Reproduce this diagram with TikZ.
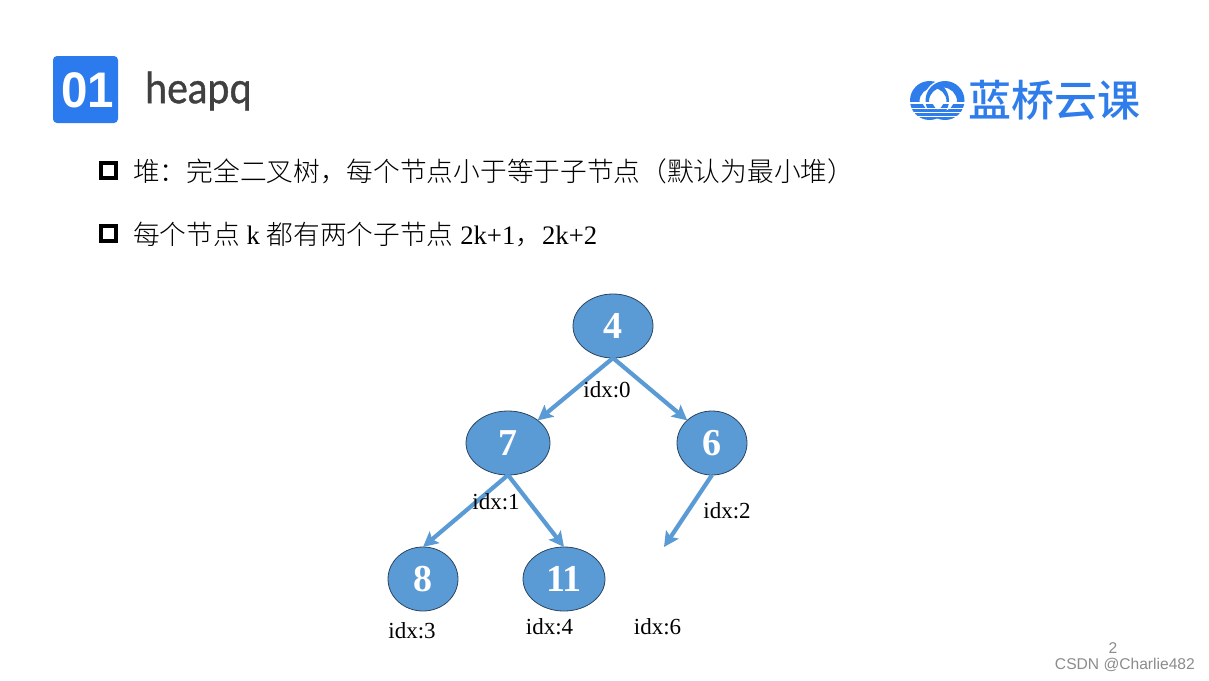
\documentclass[tikz,border=0pt]{standalone}
\usepackage{fontspec}
\setmainfont{Liberation Serif}
\newfontfamily\cjk{Noto Sans CJK SC Light}
\newfontfamily\cjkb{Noto Sans CJK SC Medium}
\newfontfamily\headfont[FakeBold=1]{Lato}
\newfontfamily\arialfont{Liberation Sans}
\usetikzlibrary{shapes.geometric,arrows.meta}
\definecolor{badge}{HTML}{2B7BEF}
\definecolor{heapblue}{HTML}{5B9BD5}
\definecolor{heapedge}{HTML}{2A4560}
\definecolor{logoblue}{HTML}{2E7DEB}
\tikzset{
  heapnode/.style={ellipse,draw=heapedge,line width=0.8pt,fill=heapblue,inner sep=0pt,outer sep=0pt,
    minimum height=64pt,text=white,font=\fontsize{38}{38}\selectfont\bfseries},
  heapedgeline/.style={draw=heapblue,line width=4.2pt,-{Stealth[length=15pt,width=15pt,inset=3pt]}},
  idxlabel/.style={font=\fontsize{23}{26}\selectfont,text=black,inner sep=0pt},
  bulletbox/.style={draw=black,line width=4pt,minimum size=15pt,inner sep=0pt,outer sep=0pt},
  bullettext/.style={anchor=west,inner sep=0pt,font=\fontsize{26.7}{30}\selectfont,text=black},
  logotext/.style={font=\fontsize{43}{43}\selectfont\cjkb,text=logoblue,inner sep=0pt,anchor=west},
  footer/.style={font=\fontsize{15.6}{17}\selectfont\arialfont,text=black!45,inner sep=0pt}
}
\begin{document}
\begin{tikzpicture}[x=1pt,y=-1pt]
\useasboundingbox[fill=white] (0,0) rectangle (1209,680);
% header
\node[fill=badge,rounded corners=4pt,minimum width=65pt,minimum height=67pt,inner sep=0pt] (badge) at (85.5,89.5) {};
\node[font=\fontsize{50}{50}\selectfont\arialfont\bfseries,text=white,inner sep=0pt,xscale=0.95] (num) at (87.5,90) {01};
\node[font=\fontsize{43}{43}\selectfont\headfont,text=black!75,anchor=west,inner sep=0pt,xscale=0.915] (title) at (145,91) {heapq};
% logo
\begin{scope}
  \clip (905,76) rectangle (970,101);
  \fill[logoblue,even odd rule] (929.5,100.5) circle[radius=19.5] (933,101.5) circle[radius=13.5];
  \draw[white,line width=2pt] (945,100.5) circle[radius=20];
  \fill[logoblue,even odd rule] (945,100.5) circle[radius=19.5] (943,101.5) circle[radius=14];
\end{scope}
\begin{scope}
  \clip (905,104) rectangle (970,122);
  \fill[logoblue,even odd rule] (929.5,100.5) circle[radius=19.5] (933,100) circle[radius=11];
  \fill[logoblue,even odd rule] (945,100.5) circle[radius=19.5] (943,100) circle[radius=11];
  \foreach \yy in {108.5,112.5,116.5}{\draw[white,line width=1pt] (905,\yy) -- (970,\yy);}
\end{scope}
\node[logotext] (logo) at (968,100) {蓝桥云课};
% bullets
\node[bulletbox] (b1) at (108,170) {};
\node[bullettext] (t1) at (133,171) {\cjk 堆^^^^ff1a完全二叉树^^^^ff0c每个节点小于等于子节点^^^^ff08默认为最小堆^^^^ff09};
\node[bulletbox] (b2) at (108,233.5) {};
\node[bullettext] (t2) at (133,234.5) {{\cjk 每个节点} k {\cjk 都有两个子节点} 2k+1{\cjk ^^^^ff0c}2k+2};
% heap
\node[heapnode,minimum width=80pt] (n4) at (613,326) {4};
\node[heapnode,minimum width=84pt] (n7) at (508,443) {7};
\node[heapnode,minimum width=70pt] (n6) at (712,443) {6};
\node[heapnode,minimum width=70pt] (n8) at (423,579) {8};
\node[heapnode,minimum width=82pt] (n11) at (564,579) {11};
\coordinate (free) at (664,547);
\draw[heapedgeline] (n4.south) -- (n7.north east);
\draw[heapedgeline] (n4.south) -- (n6.north west);
\draw[heapedgeline] (n7.south) -- (n8.north);
\draw[heapedgeline] (n7.south) -- (n11.north);
\draw[heapedgeline] (n6.south) -- (free);
% labels
\node[idxlabel] (i0) at (607,390) {idx:0};
\node[idxlabel] (i1) at (496,502) {idx:1};
\node[idxlabel] (i2) at (727,511) {idx:2};
\node[idxlabel] (i3) at (412,631) {idx:3};
\node[idxlabel] (i4) at (549.5,627) {idx:4};
\node[idxlabel] (i6) at (657.5,627) {idx:6};
% footer
\node[footer] (page) at (1113,648) {2};
\node[footer,anchor=east] (mark) at (1195,665) {CSDN @Charlie482};
\end{tikzpicture}
\end{document}
